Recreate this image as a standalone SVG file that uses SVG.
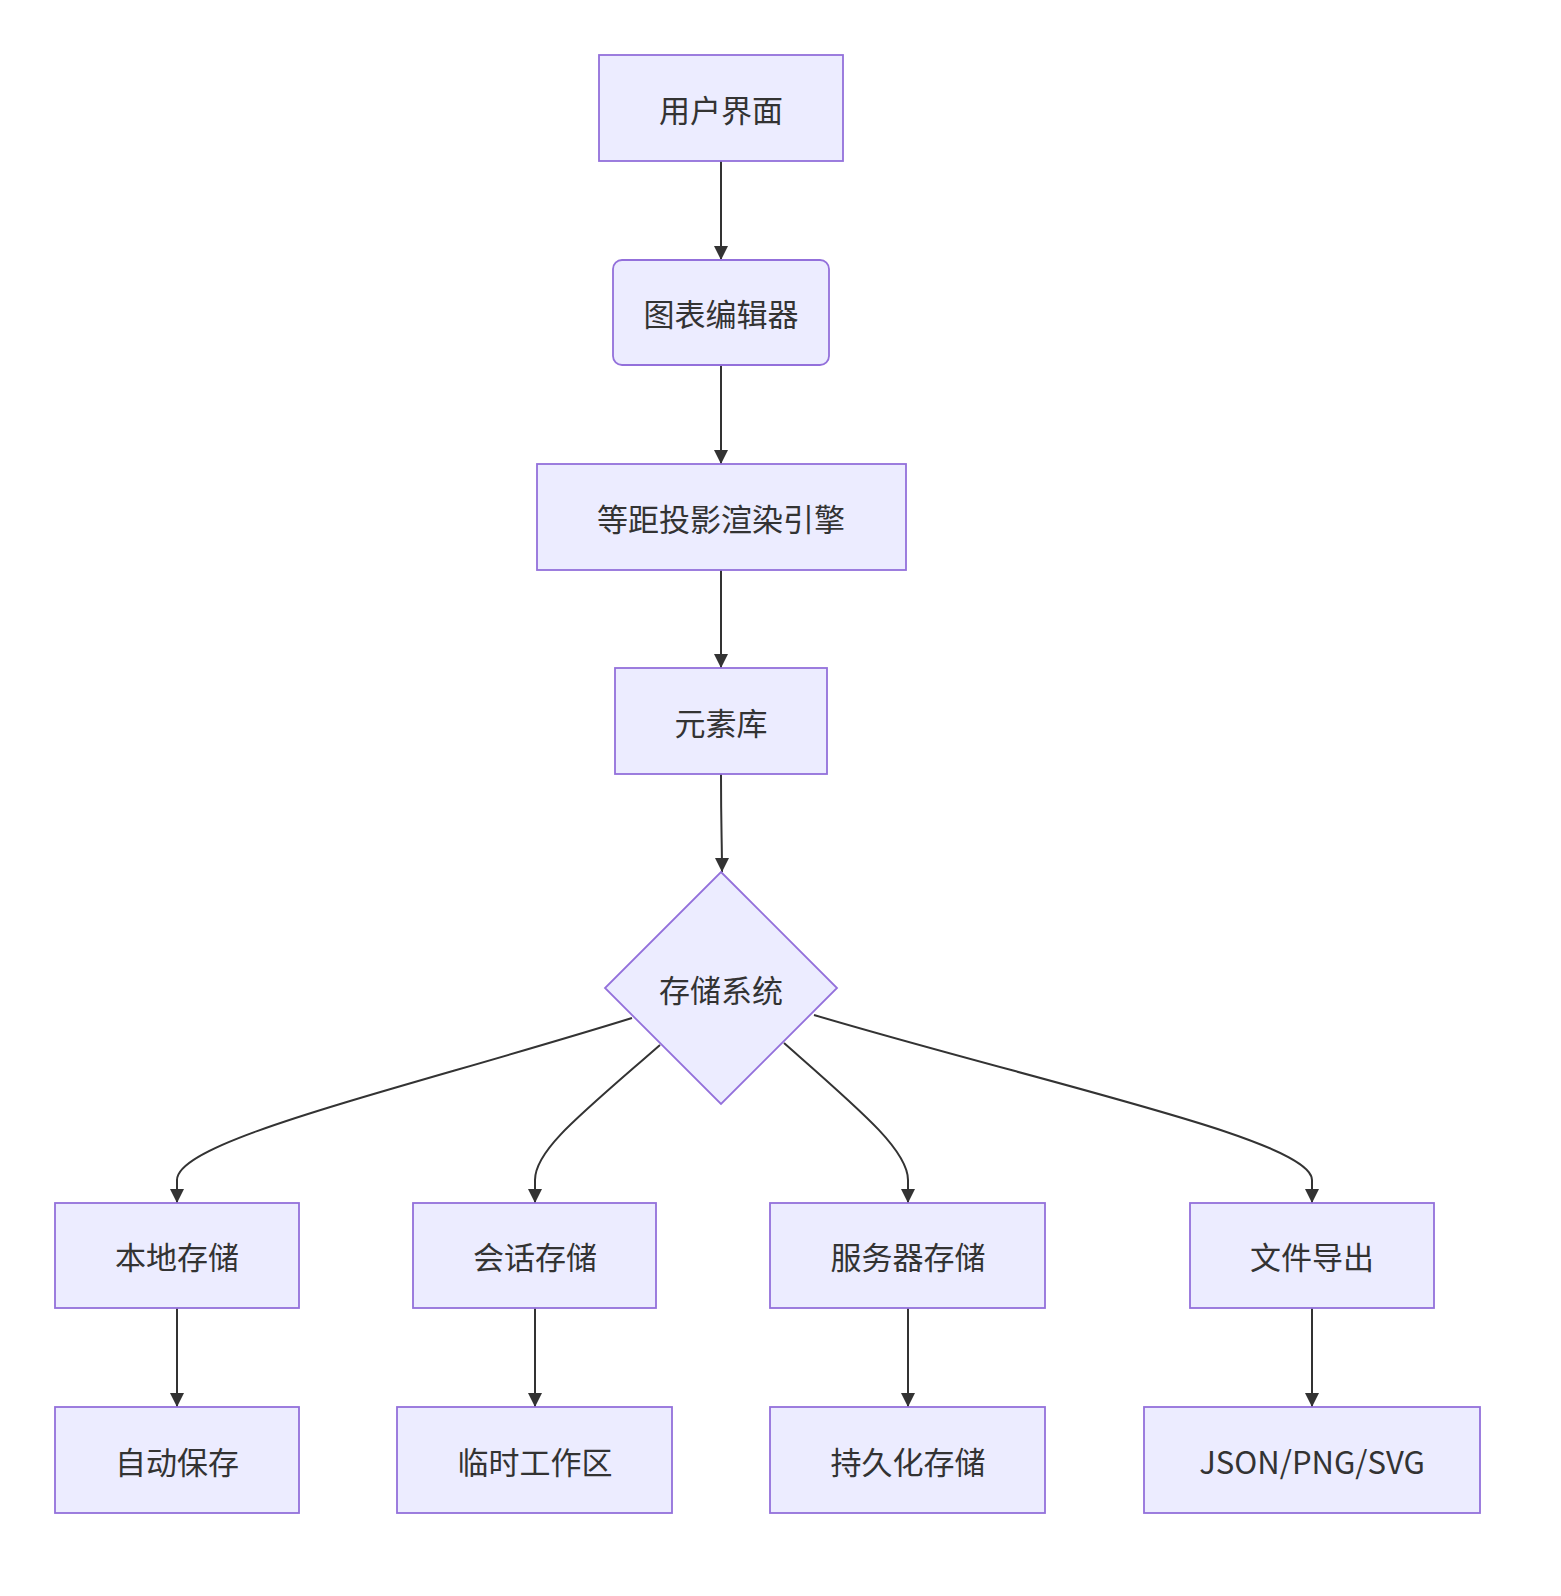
<svg xmlns="http://www.w3.org/2000/svg" width="1561" height="1596" viewBox="0 0 1561 1596">
<style>
.n{fill:#ECECFF;stroke:#9370DB;stroke-width:1.8}
.t{font-family:"Noto Sans CJK SC","Noto Sans",sans-serif;font-size:31px;fill:#333;text-anchor:middle;dominant-baseline:central}
.e{fill:none;stroke:#333;stroke-width:2}
</style>
<defs><marker id="a" viewBox="0 0 10 10" refX="10" refY="5" markerWidth="14" markerHeight="14" markerUnits="userSpaceOnUse" orient="auto"><path d="M0,0L10,5L0,10z" fill="#333"/></marker></defs>
<rect width="1561" height="1596" fill="#fff"/>
<g id="edges">
<path class="e" d="M721,161V260" marker-end="url(#a)"/>
<path class="e" d="M721,365V464" marker-end="url(#a)"/>
<path class="e" d="M721,570V668" marker-end="url(#a)"/>
<path class="e" d="M721,774C721,830 722,840 722,872" marker-end="url(#a)"/>
<path class="e" d="M632,1018C400,1090 177,1140 177,1180L177,1203" marker-end="url(#a)"/>
<path class="e" d="M660,1045C580,1115 535,1150 535,1180L535,1203" marker-end="url(#a)"/>
<path class="e" d="M784,1043C860,1110 908,1150 908,1180L908,1203" marker-end="url(#a)"/>
<path class="e" d="M814,1015C1050,1085 1312,1140 1312,1180L1312,1203" marker-end="url(#a)"/>
<path class="e" d="M177,1308V1407" marker-end="url(#a)"/>
<path class="e" d="M535,1308V1407" marker-end="url(#a)"/>
<path class="e" d="M908,1308V1407" marker-end="url(#a)"/>
<path class="e" d="M1312,1308V1407" marker-end="url(#a)"/>
</g>
<g id="ui"><rect class="n" x="599" y="55" width="244" height="106"/><text class="t" x="721" y="108">用户界面</text></g>
<g id="editor"><rect class="n" x="613" y="260" width="216" height="105" rx="9"/><text class="t" x="721" y="312">图表编辑器</text></g>
<g id="engine"><rect class="n" x="537" y="464" width="369" height="106"/><text class="t" x="721" y="517">等距投影渲染引擎</text></g>
<g id="lib"><rect class="n" x="615" y="668" width="212" height="106"/><text class="t" x="721" y="721">元素库</text></g>
<g id="storage"><polygon class="n" points="721,872 837,988 721,1104 605,988"/><text class="t" x="721" y="988">存储系统</text></g>
<g id="local"><rect class="n" x="55" y="1203" width="244" height="105"/><text class="t" x="177" y="1255">本地存储</text></g>
<g id="session"><rect class="n" x="413" y="1203" width="243" height="105"/><text class="t" x="535" y="1255">会话存储</text></g>
<g id="server"><rect class="n" x="770" y="1203" width="275" height="105"/><text class="t" x="908" y="1255">服务器存储</text></g>
<g id="export"><rect class="n" x="1190" y="1203" width="244" height="105"/><text class="t" x="1312" y="1255">文件导出</text></g>
<g id="autosave"><rect class="n" x="55" y="1407" width="244" height="106"/><text class="t" x="177" y="1460">自动保存</text></g>
<g id="temp"><rect class="n" x="397" y="1407" width="275" height="106"/><text class="t" x="535" y="1460">临时工作区</text></g>
<g id="persist"><rect class="n" x="770" y="1407" width="275" height="106"/><text class="t" x="908" y="1460">持久化存储</text></g>
<g id="formats"><rect class="n" x="1144" y="1407" width="336" height="106"/><text class="t" x="1312" y="1460">JSON/PNG/SVG</text></g>
</svg>
